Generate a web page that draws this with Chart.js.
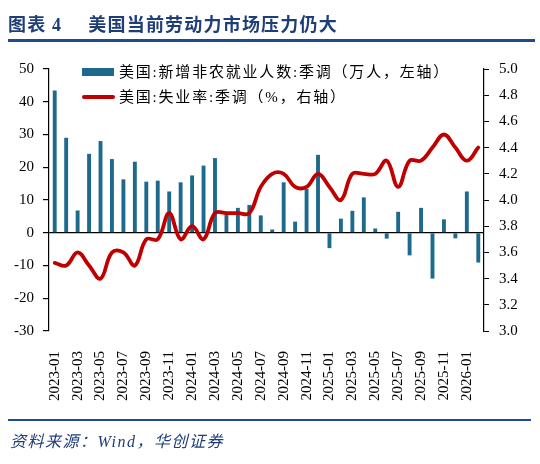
<!DOCTYPE html>
<html><head><meta charset="utf-8">
<script src="https://cdn.jsdelivr.net/npm/chart.js@4.4.1/dist/chart.umd.min.js"></script>
<style>
html,body{margin:0;padding:0;background:#fff;}
#wrap{position:relative;width:540px;height:464px;overflow:hidden;background:#fff;}
#c{position:absolute;left:0;top:0;}
.title{position:absolute;left:8px;top:14px;font-family:"Liberation Serif","Noto Sans CJK SC",serif;font-weight:bold;font-size:18px;line-height:22px;letter-spacing:1.2px;color:#1f3e78;white-space:nowrap;}
.title .gap{display:inline-block;width:26px;}
.rule{position:absolute;left:8px;height:3px;background:#1e4b8f;}
.src{position:absolute;left:10px;top:432px;font-family:"Liberation Serif","Noto Sans CJK SC",serif;font-style:italic;font-size:16px;line-height:20px;letter-spacing:1.5px;color:#1f3e78;white-space:nowrap;}
.leg{position:absolute;font-family:"Liberation Serif","Noto Sans CJK SC",serif;font-size:15px;line-height:18px;letter-spacing:1.8px;color:#000;white-space:nowrap;}
.swatch{position:absolute;}
</style></head><body>
<div id="wrap">
<canvas id="c" width="540" height="464"></canvas>
<div class="title">图表 4<span class="gap"></span>美国当前劳动力市场压力仍大</div>
<div class="rule" style="top:39px;width:527px;"></div>
<div class="swatch" style="left:82px;top:68px;width:32px;height:8px;background:#1d6a8c;"></div>
<div class="leg" style="left:119px;top:63px;">美国:新增非农就业人数:季调（万人，左轴）</div>
<div class="swatch" style="left:82px;top:95px;width:33px;height:4px;border-radius:2px;background:#c00000;"></div>
<div class="leg" style="left:119px;top:88px;">美国:失业率:季调（%，右轴）</div>
<div class="rule" style="top:419px;width:523px;height:2px;"></div>
<div class="src">资料来源：Wind，华创证券</div>
</div>
<script>
const months = ["2023-01","2023-02","2023-03","2023-04","2023-05","2023-06","2023-07","2023-08","2023-09","2023-10","2023-11","2023-12",
"2024-01","2024-02","2024-03","2024-04","2024-05","2024-06","2024-07","2024-08","2024-09","2024-10","2024-11","2024-12",
"2025-01","2025-02","2025-03","2025-04","2025-05","2025-06","2025-07","2025-08","2025-09","2025-10","2025-11","2025-12",
"2026-01","2026-02"];
const payrolls = [43.4,29.0,6.8,24.1,28.0,22.5,16.3,21.7,15.6,15.9,12.6,15.4,
17.5,20.5,22.8,5.6,7.6,8.5,5.3,1.0,15.4,3.4,13.4,23.8,
-4.7,4.3,6.7,10.8,1.3,-1.8,6.4,-6.9,7.6,-14.0,4.1,-1.7,
12.6,-9.1];
const unemployment = [3.52,3.5,3.6,3.5,3.4,3.6,3.6,3.5,3.7,3.7,3.9,3.7,
3.8,3.7,3.9,3.9,3.9,3.9,4.1,4.2,4.2,4.1,4.1,4.2,
4.1,4.0,4.2,4.2,4.2,4.3,4.1,4.3,4.3,4.4,4.5,4.4,
4.3,4.4];
const leftAxis = {min:-30, max:50, step:10};
const rightAxis = {min:3.0, max:5.0, step:0.2};
const seriesNames = ["美国:新增非农就业人数:季调（万人，左轴）","美国:失业率:季调（%，右轴）"];

const tickFont = {family:"'Liberation Serif', serif", size:15};
new Chart(document.getElementById('c'), {
  type:'bar',
  data:{
    labels:months,
    datasets:[
      {type:'line', label:seriesNames[1], data:unemployment, yAxisID:'yR', borderColor:'#c00000', borderWidth:3.8,
       pointRadius:0, tension:0.4, borderCapStyle:'round', borderJoinStyle:'round', order:0, fill:false},
      {type:'bar', label:seriesNames[0], data:payrolls, yAxisID:'yL', backgroundColor:'#1d6a8c',
       categoryPercentage:1.0, barPercentage:0.34, order:1}
    ]
  },
  options:{
    responsive:false, animation:false,
    layout:{padding:{top:69,left:0,right:0,bottom:0}},
    plugins:{legend:{display:false}, tooltip:{enabled:false}},
    scales:{
      x:{offset:true, grid:{display:false}, border:{display:false},
         ticks:{autoSkip:false, minRotation:90, maxRotation:90, padding:12, color:'#000', font:tickFont,
           callback:function(v, i){ return i % 2 === 0 ? months[i] : ''; }},
         afterFit:function(s){ s.height = 133; }},
      yL:{position:'left', min:leftAxis.min, max:leftAxis.max,
          ticks:{stepSize:leftAxis.step, color:'#000', font:tickFont, padding:9},
          grid:{color:function(ctx){ return ctx.tick && ctx.tick.value === 0 ? '#000' : 'rgba(0,0,0,0)'; }, lineWidth:1.2,
                tickColor:'#000', tickLength:6, drawTicks:true},
          border:{display:true, color:'#000', width:1.2},
          afterFit:function(s){ s.width = 49; }},
      yR:{position:'right', min:rightAxis.min, max:rightAxis.max,
          ticks:{stepSize:rightAxis.step, color:'#000', font:tickFont, padding:10,
                 callback:function(v){ return Number(v).toFixed(1); }},
          grid:{drawOnChartArea:false, tickColor:'#000', tickLength:5, color:'#000'},
          border:{display:true, color:'#000', width:1.2},
          afterFit:function(s){ s.width = 56; }}
    }
  }
});
</script>
</body></html>
